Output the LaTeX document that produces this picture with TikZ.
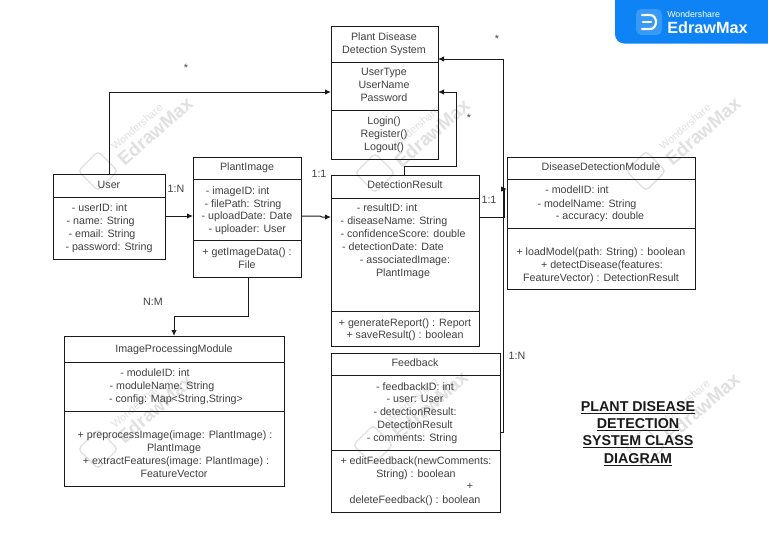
\documentclass[tikz,border=0pt]{standalone}
\usepackage{fontspec}
\setmainfont{Liberation Sans}
\usetikzlibrary{arrows.meta}
\definecolor{inkc}{HTML}{404040}
\definecolor{linec}{HTML}{1A1A1A}
\definecolor{wmc}{HTML}{E0E0E0}
\definecolor{bannerc}{HTML}{0E83F5}
\tikzset{
  box/.style={draw=linec,line width=0.8pt,inner sep=0pt},
  divider/.style={draw=linec,line width=0.7pt},
  lbl/.style={text=inkc,font=\fontsize{8}{9.75}\selectfont,inner sep=0pt,anchor=base,yshift=-2.9pt},
  card/.style={text=inkc,font=\fontsize{8}{9.75}\selectfont,inner sep=0pt,anchor=base,yshift=-2.9pt},
  conn/.style={draw=linec,line width=0.75pt,-{Latex[length=4.5pt,width=4pt]}},
  wmark/.style={rotate=41,text=wmc,inner sep=0pt},
  wmdiamond/.style={draw=wmc,line width=1pt,rounded corners=3pt,rotate=45,minimum size=21pt,inner sep=0pt},
  ttl/.style={text=linec,font=\fontsize{10.7}{13}\bfseries\selectfont,inner sep=0pt,anchor=base,yshift=-3.9pt}
}
\begin{document}
\begin{tikzpicture}[x=0.75pt,y=-0.75pt]
\useasboundingbox (0,0) rectangle (768,543);
\fill[white] (0,0) rectangle (768,543);
% watermarks
\foreach \i/\dx/\dy in {a/0/0,b/277/2,c/548/0,d/275/274,e/0/278,f/547/276}{
  \begin{scope}[shift={(\dx,\dy)}]
    \node[wmdiamond] (wd\i) at (98,171) {};
    \node[wmark,font=\fontsize{8}{9}\selectfont] (ww\i) at (137,127) {Wondershare};
    \node[wmark,font=\fontsize{14}{16}\bfseries\selectfont] (we\i) at (155,131) {EdrawMax};
  \end{scope}
}
% banner
\fill[bannerc,rounded corners=7pt] (615,-12) rectangle (790,43.5);
\fill[white,opacity=.18,rounded corners=4pt] (636,9) rectangle (662,35);
\draw[white,line width=1.6pt,line cap=round] (642,15) -- (650,15) .. controls (658,15) and (658,29) .. (650,29) -- (642,29);
\draw[white,line width=1.6pt,line cap=round] (643,22) -- (651,22);
\node[anchor=west,text=white,inner sep=0pt,font=\fontsize{6.6}{8}\selectfont] (bw) at (667,14.5) {Wondershare};
\node[anchor=west,text=white,inner sep=0pt,font=\fontsize{12.2}{14}\bfseries\selectfont] (be) at (667,28) {EdrawMax};

% boxes
\node[box,anchor=north west,minimum width=107pt*0.75,minimum height=133pt*0.75] (sys) at (331,26) {};
\node[box,anchor=north west,minimum width=112pt*0.75,minimum height=85pt*0.75] (usr) at (53,174) {};
\node[box,anchor=north west,minimum width=108pt*0.75,minimum height=119.5pt*0.75] (img) at (193,157) {};
\node[box,anchor=north west,minimum width=148pt*0.75,minimum height=171pt*0.75] (det) at (331,175) {};
\node[box,anchor=north west,minimum width=188pt*0.75,minimum height=132pt*0.75] (mod) at (507,157) {};
\node[box,anchor=north west,minimum width=220pt*0.75,minimum height=150pt*0.75] (ipm) at (64,336) {};
\node[box,anchor=north west,minimum width=169pt*0.75,minimum height=159pt*0.75] (fbk) at (331,353) {};
% dividers
\draw[divider] (331,62)--(438,62) (331,110)--(438,110);
\draw[divider] (53,197)--(165,197);
\draw[divider] (193,179.5)--(301,179.5) (193,240.5)--(301,240.5);
\draw[divider] (331,198)--(479,198) (331,311)--(479,311);
\draw[divider] (507,179)--(695,179) (507,228)--(695,228);
\draw[divider] (64,362)--(284,362) (64,411)--(284,411);
\draw[divider] (331,375)--(500,375) (331,450)--(500,450);

% connector way points
\coordinate (usrTop) at (109,174);
\coordinate (sysL) at (331,92);
\coordinate (sysR) at (438,92);
\coordinate (sysRT) at (438,59);
\coordinate (detTop) at (404,175);
\coordinate (fbkR) at (500,432);
\coordinate (modL) at (507,189);
\coordinate (detR) at (479,217);
\coordinate (imgB) at (248,276.5);
\coordinate (ipmT) at (174,336);
\coordinate (usrR) at (165,216);
\coordinate (imgL) at (193,216);
\coordinate (imgR) at (301,216);
\coordinate (detL) at (331,217);
% connectors
\draw[conn] (usrTop) -- (109,92) -- (sysL);
\draw[conn] (usrR) -- (imgL);
\draw[conn] (imgR) -- (320,216) -- (322,217) -- (detL);
\draw[conn] (imgB) -- (248,316) -- (174,316) -- (ipmT);
\draw[conn] (detTop) -- (404,166) -- (456,166) -- (456,92) -- (sysR);
\draw[conn] (fbkR) -- (503,432) -- (503,59) -- (sysRT);
\draw[conn] (detR) -- (504,217) -- (504,189) -- (modL);

% System
\node[lbl] (s1) at (384,36.5) {Plant Disease};
\node[lbl] (s2) at (384,50) {Detection System};
\node[lbl] (s3) at (384,72) {UserType};
\node[lbl] (s4) at (384,85) {UserName};
\node[lbl] (s5) at (384,98) {Password};
\node[lbl] (s6) at (384,120.5) {Login()};
\node[lbl] (s7) at (384,133.5) {Register()};
\node[lbl] (s8) at (384,147) {Logout()};
% User
\node[lbl] (u0) at (109,185) {User};
\node[lbl] (u1) at (99.5,207.5) {- userID: int};
\node[lbl] (u2) at (100.7,220.5) {- name: String};
\node[lbl] (u3) at (102,234) {- email: String};
\node[lbl] (u4) at (109,247) {- password: String};
% PlantImage
\node[lbl] (i0) at (247,167) {PlantImage};
\node[lbl] (i1) at (237.7,190.5) {- imageID: int};
\node[lbl] (i2) at (243,203.5) {- filePath: String};
\node[lbl] (i3) at (247,216) {- uploadDate: Date};
\node[lbl] (i4) at (247.3,229) {- uploader: User};
\node[lbl] (i5) at (247,252) {+ getImageData() :};
\node[lbl] (i6) at (247,265) {File};
% DetectionResult
\node[lbl] (d0) at (405,185) {DetectionResult};
\node[lbl] (d1) at (387,208) {- resultID: int};
\node[lbl] (d2) at (394,221) {- diseaseName: String};
\node[lbl] (d3) at (403,234) {- confidenceScore: double};
\node[lbl] (d4) at (393,247) {- detectionDate: Date};
\node[lbl] (d5) at (405,260) {- associatedImage:};
\node[lbl] (d6) at (403,273) {PlantImage};
\node[lbl] (d7) at (405,322.5) {+ generateReport() : Report};
\node[lbl] (d8) at (405,335) {+ saveResult() : boolean};
% DiseaseDetectionModule
\node[lbl] (m0) at (601,167) {DiseaseDetectionModule};
\node[lbl] (m1) at (577,190) {- modelID: int};
\node[lbl] (m2) at (587,203.5) {- modelName: String};
\node[lbl] (m3) at (600,216) {- accuracy: double};
\node[lbl] (m4) at (601,252) {+ loadModel(path: String) : boolean};
\node[lbl] (m5) at (602,265) {+ detectDisease(features:};
\node[lbl] (m6) at (601,277.5) {FeatureVector) : DetectionResult};
% ImageProcessingModule
\node[lbl] (p0) at (174,349) {ImageProcessingModule};
\node[lbl] (p1) at (155,373) {- moduleID: int};
\node[lbl] (p2) at (162,386) {- moduleName: String};
\node[lbl] (p3) at (176,399) {- config: Map<String,String>};
\node[lbl] (p4) at (175,435) {+ preprocessImage(image: PlantImage) :};
\node[lbl] (p5) at (174,448) {PlantImage};
\node[lbl] (p6) at (176,461) {+ extractFeatures(image: PlantImage) :};
\node[lbl] (p7) at (174,474) {FeatureVector};
% Feedback
\node[lbl] (f0) at (415,363) {Feedback};
\node[lbl] (f1) at (415,386.5) {- feedbackID: int};
\node[lbl] (f2) at (415,399) {- user: User};
\node[lbl] (f3) at (415,412) {- detectionResult:};
\node[lbl] (f4) at (415,425) {DetectionResult};
\node[lbl] (f5) at (412,438) {- comments: String};
\node[lbl] (f6) at (416,461) {+ editFeedback(newComments:};
\node[lbl] (f7) at (416,474) {String) : boolean};
\node[lbl] (f8) at (470,486) {+};
\node[lbl] (f9) at (415,500) {deleteFeedback() : boolean};
% multiplicities
\node[card] (c1) at (186,68) {*};
\node[card] (c2) at (497,39) {*};
\node[card] (c3) at (469,118) {*};
\node[card] (c4) at (176,189) {1:N};
\node[card] (c5) at (319,174) {1:1};
\node[card] (c6) at (489,200) {1:1};
\node[card] (c7) at (153,302) {N:M};
\node[card] (c8) at (517,356) {1:N};
% title
\node[ttl] (t1) at (638,406) {\underline{PLANT DISEASE}};
\node[ttl] (t2) at (638,423) {\underline{DETECTION}};
\node[ttl] (t3) at (638,440) {\underline{SYSTEM CLASS}};
\node[ttl] (t4) at (638,458) {\underline{DIAGRAM}};
\end{tikzpicture}
\end{document}
